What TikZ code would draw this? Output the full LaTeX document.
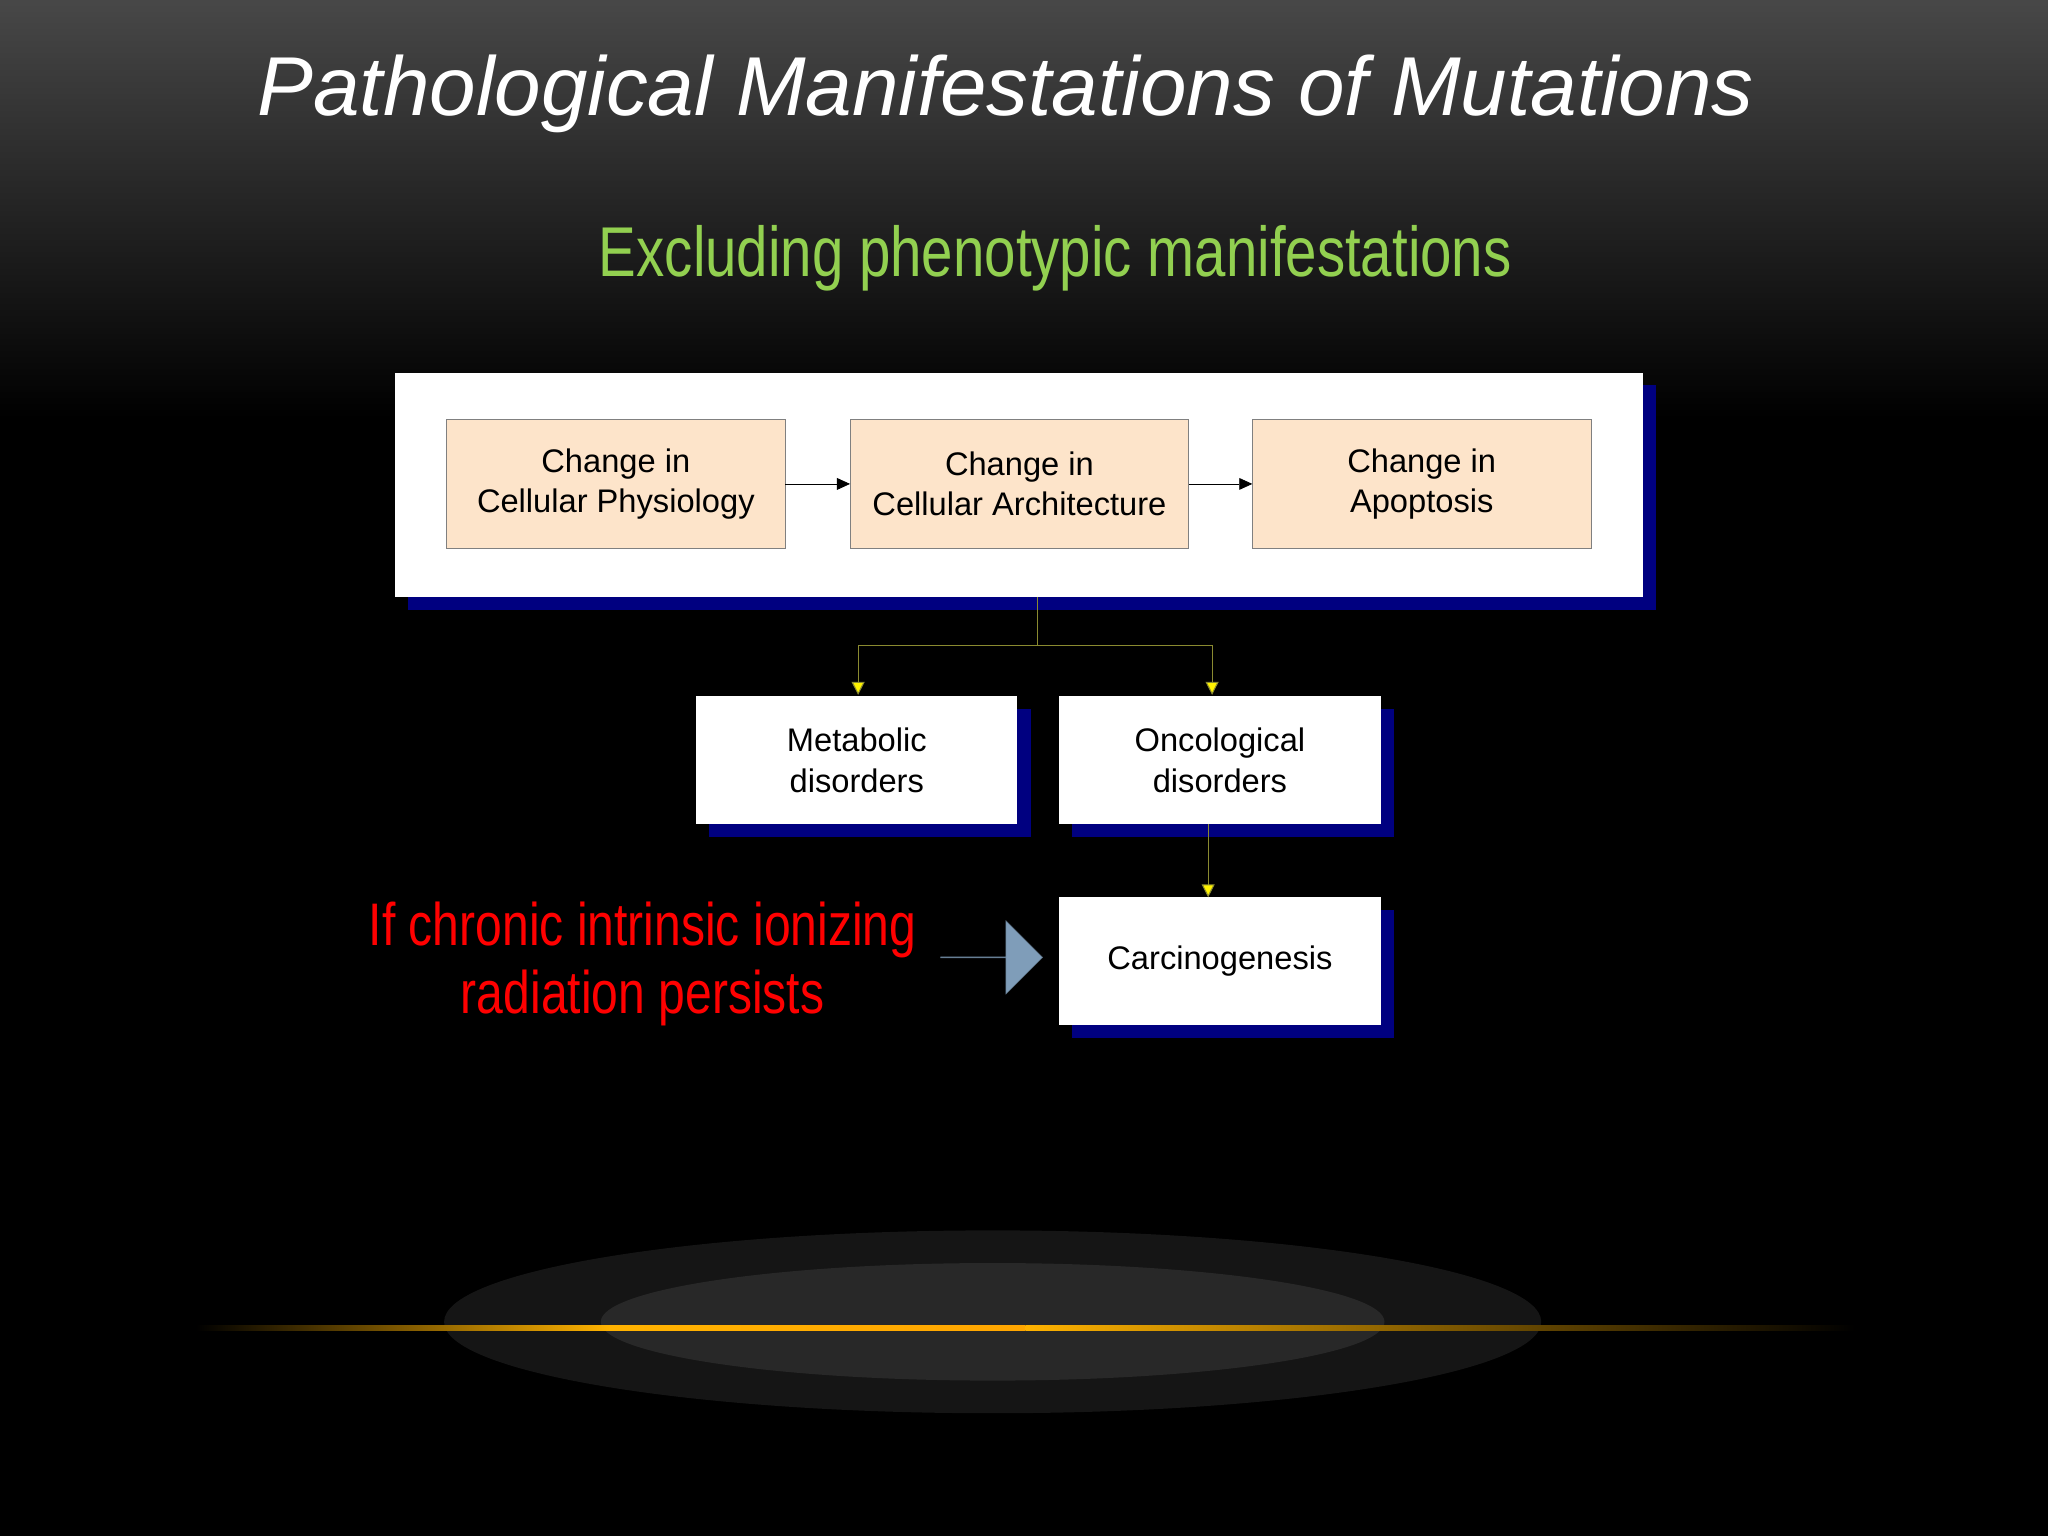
\documentclass[tikz,border=0pt]{standalone}
\usepackage{fontspec}
\setmainfont{Liberation Sans}
\usetikzlibrary{arrows.meta,shapes.arrows}
\definecolor{navy}{HTML}{000080}
\definecolor{peach}{HTML}{FDE4CA}
\definecolor{lime}{HTML}{92D050}
\definecolor{steel}{HTML}{7F9DB9}
\definecolor{olive}{HTML}{8A8A30}
\tikzset{
 shadowbox/.style={fill=white,minimum width=246pt,minimum height=98pt,align=center,font=\fontsize{25}{31}\selectfont,text=black},
 peachbox/.style={fill=peach,draw=gray,minimum width=259pt,minimum height=99pt,align=center,font=\fontsize{25}{31}\selectfont,text=black},
 yarrow/.style={draw=olive,line width=0.8pt,-{Triangle[fill=yellow,length=10pt,width=10pt]}},
 barrow/.style={draw=black,line width=0.6pt,-{Triangle[fill=black,length=10pt,width=9pt]}}
}
\begin{document}
\begin{tikzpicture}[x=1pt,y=-1pt]
\useasboundingbox (0,0) rectangle (1568,1176);
\fill[black] (0,0) rectangle (1568,1176);
\shade[top color=black!72!white,bottom color=black] (0,0) rectangle (1568,320);
% bottom glow
\fill[black!30!white,opacity=0.12] (760,1012) ellipse (420pt and 70pt);
\fill[black!30!white,opacity=0.12] (760,1012) ellipse (300pt and 45pt);
\shade[left color=black,right color=orange!70!yellow,middle color=orange!60!yellow] (150,1015) rectangle (785,1019);
\shade[left color=orange!60!yellow,right color=black] (785,1015) rectangle (1420,1019);
% titles
\node[text=white,font=\fontsize{64}{70}\selectfont\itshape] (title) at (770,72) {Pathological Manifestations of Mutations};
\node[text=lime,font=\fontsize{54}{60}\selectfont,xscale=0.8] (sub) at (808,198) {Excluding phenotypic manifestations};
% big box
\fill[navy] (312,295) rectangle (1268,467);
\node[fill=white,minimum width=956pt,minimum height=172pt,anchor=north west,inner sep=0] (big) at (302,285) {};
\node[peachbox] (p1) at (471.5,370.5) {Change in\\Cellular Physiology};
\node[peachbox] (p2) at (780.5,370.5) {Change in\\Cellular Architecture};
\node[peachbox] (p3) at (1088.5,370.5) {Change in\\Apoptosis};
\draw[barrow] (p1.east) -- (p2.west);
\draw[barrow] (p2.east) -- (p3.west);
% second row
\fill[navy] (543,543) rectangle (789,641);
\fill[navy] (821,543) rectangle (1067,641);
\fill[navy] (821,697) rectangle (1067,795);
\node[shadowbox] (m) at (656,582) {Metabolic\\disorders};
\node[shadowbox] (o) at (934,582) {Oncological\\disorders};
\node[shadowbox] (c) at (934,736) {Carcinogenesis};
\coordinate (j) at (794,494);
\draw[olive,line width=0.8pt] (794,457) -- (j);
\draw[yarrow] (j) -| (657,532);
\draw[yarrow] (j) -| (928,532);
\draw[yarrow] (925,631) -- (925,687);
% red text and block arrow
\node[text=red,font=\fontsize{46}{52}\selectfont,xscale=0.8,align=center] (r) at (492,738) {If chronic intrinsic ionizing\\radiation persists};
\node[single arrow,fill=steel,draw=steel!70!black,minimum height=78pt,minimum width=56pt,single arrow head extend=14pt,inner sep=0] (ba) at (759,733) {};
\end{tikzpicture}
\end{document}
